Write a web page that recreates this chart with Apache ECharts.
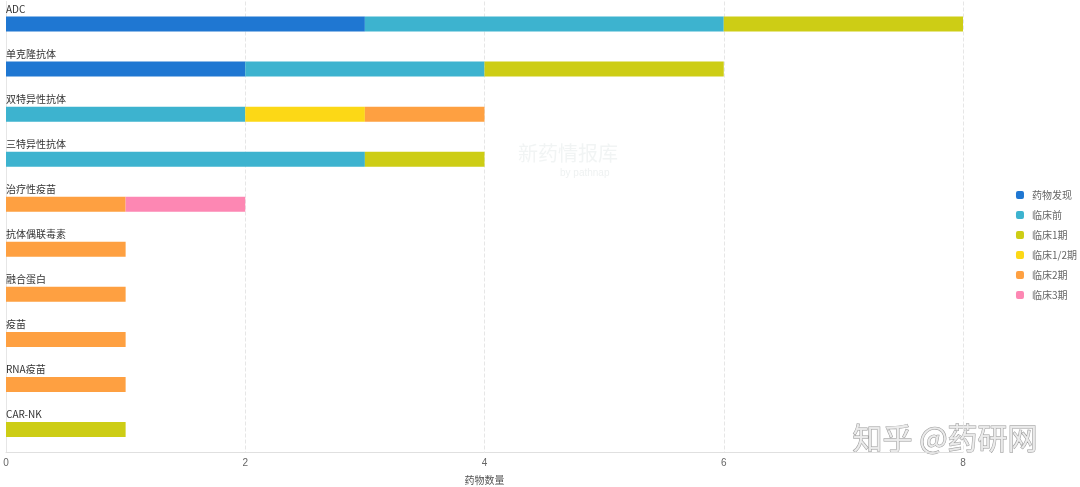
<!DOCTYPE html>
<html><head><meta charset="utf-8">
<script src="https://cdn.jsdelivr.net/npm/echarts@6/dist/echarts.min.js"></script>
<style>html,body{margin:0;padding:0;background:#fff}#c{width:1080px;height:487px}</style>
</head><body><div id="c"></div>
<script>
var categories = ['ADC','单克隆抗体','双特异性抗体','三特异性抗体','治疗性疫苗','抗体偶联毒素','融合蛋白','疫苗','RNA疫苗','CAR-NK'];
var seriesNames = ['药物发现','临床前','临床1期','临床1/2期','临床2期','临床3期'];
var drugDiscovery = [3,2,0,0,0,0,0,0,0,0];
var preclinical   = [3,2,2,3,0,0,0,0,0,0];
var phase1        = [2,2,0,1,0,0,0,0,0,1];
var phase12       = [0,0,1,0,0,0,0,0,0,0];
var phase2        = [0,0,1,0,1,1,1,1,1,0];
var phase3        = [0,0,0,0,1,0,0,0,0,0];
var xTicks = [0,2,4,6,8];
var colors = ['#1f77d2','#3db3cf','#cdcd15','#fcd816','#fea041','#fd87b3'];
var values = [drugDiscovery, preclinical, phase1, phase12, phase2, phase3];

var chart = echarts.init(document.getElementById('c'), null, {renderer:'canvas'});
var series = seriesNames.map(function(n,i){
  return {name:n, type:'bar', stack:'total', barWidth:15,
    itemStyle:{color:colors[i]},
    data: values[i].map(function(v){return v===0?null:v;})};
});
chart.setOption({
  animation:false,
  color: colors,
  grid:{left:6, right:117, top:1.5, bottom:35, containLabel:false, outerBoundsMode:'none'},
  legend:{orient:'vertical', right:3, top:190, padding:0, itemWidth:8, itemHeight:8, itemGap:10,
    icon:'roundRect', textStyle:{fontSize:10, color:'#666', fontFamily:'Noto Sans CJK SC', padding:[0,0,0,3]}, data:seriesNames},
  xAxis:{type:'value', min:0, max:8, interval:2, name:'药物数量', nameLocation:'middle', nameGap:23,
    nameTextStyle:{fontSize:10, color:'#555', fontFamily:'Noto Sans CJK SC'},
    axisLine:{show:true, lineStyle:{color:'#e0e0e0'}}, axisTick:{show:false},
    axisLabel:{fontSize:10, color:'#666', margin:6,
      formatter:function(v){return xTicks.indexOf(v)>=0?String(v):'';}},
    splitLine:{show:true, lineStyle:{type:'dashed', color:'#e6e6e6'}}},
  yAxis:{type:'category', data:categories, inverse:true,
    axisLine:{show:true, lineStyle:{color:'#e6e6e6'}}, axisTick:{show:false},
    axisLabel:{inside:true, align:'left', verticalAlign:'bottom', margin:0, padding:[0,0,10,0],
      fontSize:10, color:'#333', fontFamily:'Noto Sans CJK SC'},
    splitLine:{show:false}},
  graphic:[
    {type:'text', left:518, top:143, style:{text:'新药情报库', fontSize:20, fill:'rgba(200,210,210,0.25)', fontFamily:'Noto Sans CJK SC'}},
    {type:'text', left:560, top:168, style:{text:'by pathnap', fontSize:10, fill:'rgba(200,210,210,0.3)'}},
    {type:'text', left:852, top:422, style:{text:'知乎 @药研网', fontSize:30, fill:'rgba(235,235,235,0.9)', stroke:'#999', lineWidth:1, fontFamily:'Noto Sans CJK SC'}}
  ],
  series: series
});
</script></body></html>
